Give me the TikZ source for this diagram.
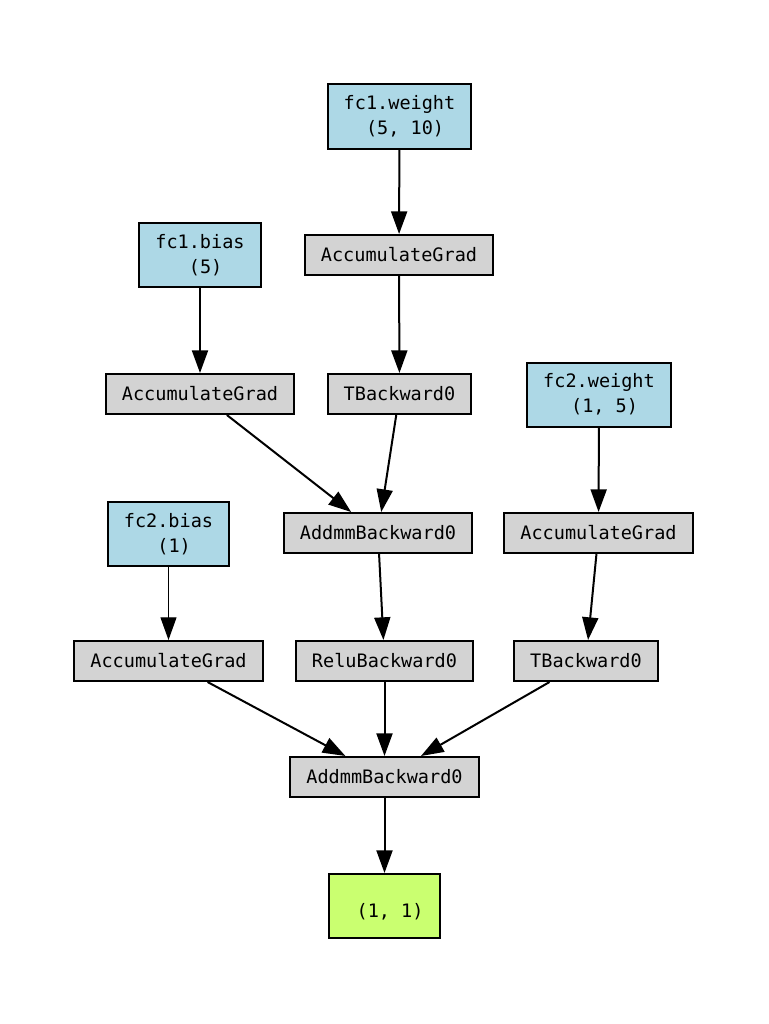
\documentclass[tikz,border=0pt]{standalone}
\usepackage{fontspec}
\setmonofont{DejaVu Sans Mono}
\usepackage{tikz}
\usetikzlibrary{arrows.meta}
\definecolor{paramblue}{HTML}{ADD8E6}
\definecolor{opgrey}{HTML}{D3D3D3}
\definecolor{outgreen}{HTML}{CAFF70}
\begin{document}
\begin{tikzpicture}[x=0.75pt,y=-0.75pt,
  every node/.style={draw,line width=1.5pt,inner xsep=12pt,inner ysep=0pt,
    font=\ttfamily\fontsize{13.9pt}{18.75pt}\selectfont,align=center},
  param/.style={fill=paramblue,minimum height=48pt},
  op/.style={fill=opgrey,minimum height=30pt},
  result/.style={fill=outgreen,minimum height=48pt,minimum width=81.75pt},
  edge/.style={line width=1.5pt,-{Triangle[length=17pt,width=12pt]}},
  thinedge/.style={line width=0.8pt,-{Triangle[length=17pt,width=12pt]}}]
\useasboundingbox (0,0) rectangle (768,1024);
\path (399.5,116.5) node [param] (wone)   {fc1.weight\\\hphantom{0}(5, 10)};
\path (399,  255)   node [op]    (accone) {AccumulateGrad};
\path (200,  255)   node [param] (bone)   {fc1.bias\\\hphantom{0}(5)};
\path (200,  394)   node [op]    (acctwo) {AccumulateGrad};
\path (399.5,394)   node [op]    (tbone)  {TBackward0};
\path (599,  394.5) node [param] (wtwo)   {fc2.weight\\\hphantom{0}(1, 5)};
\path (168.5,534)   node [param] (btwo)   {fc2.bias\\\hphantom{0}(1)};
\path (378,  533)   node [op]    (addone) {AddmmBackward0};
\path (598.5,533)   node [op]    (accthree) {AccumulateGrad};
\path (168.5,661)   node [op]    (accfour) {AccumulateGrad};
\path (384.5,661)   node [op]    (relu)   {ReluBackward0};
\path (586,  661)   node [op]    (tbtwo)  {TBackward0};
\path (384.5,777)   node [op]    (addtwo) {AddmmBackward0};
\path (384.5,906)   node [result] (out)   {\mbox{}\\\hphantom{0}(1, 1)};
\draw [edge] (wone) -- (accone);
\draw [edge] (accone) -- (tbone);
\draw [edge] (bone) -- (acctwo);
\draw [edge] (acctwo) -- (addone);
\draw [edge] (tbone) -- (addone);
\draw [edge] (wtwo) -- (accthree);
\draw [edge] (accthree) -- (tbtwo);
\draw [edge] (addone) -- (relu);
\draw [thinedge] (btwo) -- (accfour);
\draw [edge] (accfour) -- (addtwo);
\draw [edge] (relu) -- (addtwo);
\draw [edge] (tbtwo) -- (addtwo);
\draw [edge] (addtwo) -- (out);
\end{tikzpicture}
\end{document}
